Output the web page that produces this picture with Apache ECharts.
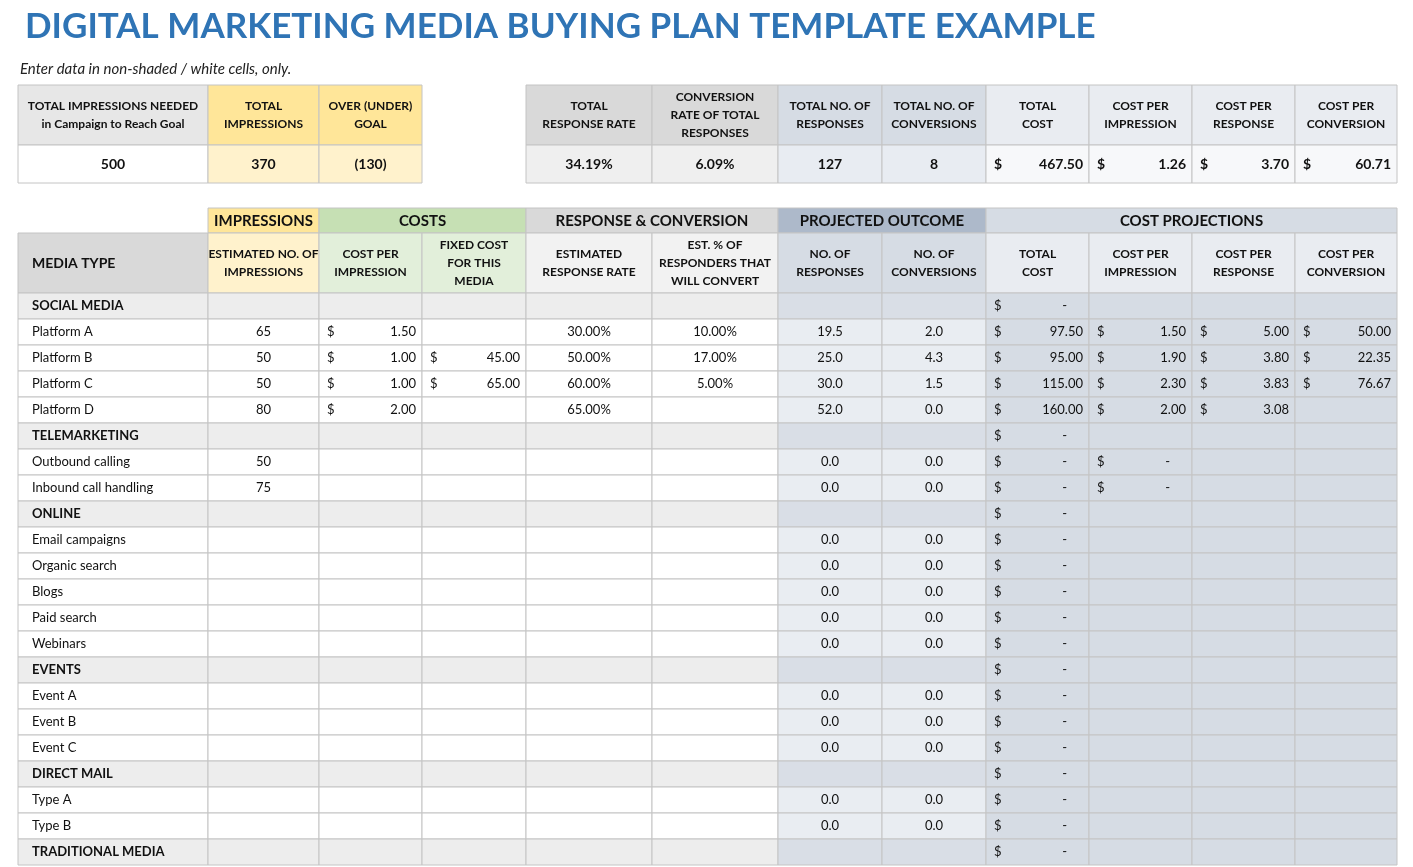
<!DOCTYPE html>
<html>
<head>
<meta charset="UTF-8">
<script src="https://cdn.jsdelivr.net/npm/echarts@6/dist/echarts.min.js"></script>
<style>html,body{margin:0;padding:0;background:#fff}#c{width:1413px;height:867px}</style>
</head>
<body>
<div id="c"></div>
<script>
// ---- data ----
var goalLabels = ['TOTAL IMPRESSIONS NEEDED\nin Campaign to Reach Goal', 'TOTAL\nIMPRESSIONS', 'OVER (UNDER)\nGOAL'];
var goalValues = ['500', '370', '(130)'];
var summaryLabels = ['TOTAL\nRESPONSE RATE', 'CONVERSION\nRATE OF TOTAL\nRESPONSES', 'TOTAL NO. OF\nRESPONSES', 'TOTAL NO. OF\nCONVERSIONS', 'TOTAL\nCOST', 'COST PER\nIMPRESSION', 'COST PER\nRESPONSE', 'COST PER\nCONVERSION'];
var summaryValues = ['34.19%', '6.09%', '127', '8', '467.50', '1.26', '3.70', '60.71'];
var groupLabels = ['IMPRESSIONS', 'COSTS', 'RESPONSE & CONVERSION', 'PROJECTED OUTCOME', 'COST PROJECTIONS'];
var columnLabels = ['MEDIA TYPE', 'ESTIMATED NO. OF\nIMPRESSIONS', 'COST PER\nIMPRESSION', 'FIXED COST\nFOR THIS\nMEDIA', 'ESTIMATED\nRESPONSE RATE', 'EST. % OF\nRESPONDERS THAT\nWILL CONVERT', 'NO. OF\nRESPONSES', 'NO. OF\nCONVERSIONS', 'TOTAL\nCOST', 'COST PER\nIMPRESSION', 'COST PER\nRESPONSE', 'COST PER\nCONVERSION'];
// section rows are marked with a leading '#'
var mediaTypes = ['#SOCIAL MEDIA', 'Platform A', 'Platform B', 'Platform C', 'Platform D', '#TELEMARKETING', 'Outbound calling', 'Inbound call handling', '#ONLINE', 'Email campaigns', 'Organic search', 'Blogs', 'Paid search', 'Webinars', '#EVENTS', 'Event A', 'Event B', 'Event C', '#DIRECT MAIL', 'Type A', 'Type B', '#TRADITIONAL MEDIA'];
var impressions = [null, '65', '50', '50', '80', null, '50', '75', null, null, null, null, null, null, null, null, null, null, null, null, null, null];
var costPerImp = [null, '1.50', '1.00', '1.00', '2.00', null, null, null, null, null, null, null, null, null, null, null, null, null, null, null, null, null];
var fixedCost = [null, null, '45.00', '65.00', null, null, null, null, null, null, null, null, null, null, null, null, null, null, null, null, null, null];
var responseRate = [null, '30.00%', '50.00%', '60.00%', '65.00%', null, null, null, null, null, null, null, null, null, null, null, null, null, null, null, null, null];
var convertPct = [null, '10.00%', '17.00%', '5.00%', null, null, null, null, null, null, null, null, null, null, null, null, null, null, null, null, null, null];
var responses = [null, '19.5', '25.0', '30.0', '52.0', null, '0.0', '0.0', null, '0.0', '0.0', '0.0', '0.0', '0.0', null, '0.0', '0.0', '0.0', null, '0.0', '0.0', null];
var conversions = [null, '2.0', '4.3', '1.5', '0.0', null, '0.0', '0.0', null, '0.0', '0.0', '0.0', '0.0', '0.0', null, '0.0', '0.0', '0.0', null, '0.0', '0.0', null];
var totalCost = ['-', '97.50', '95.00', '115.00', '160.00', '-', '-', '-', '-', '-', '-', '-', '-', '-', '-', '-', '-', '-', '-', '-', '-', '-'];
var projCpi = [null, '1.50', '1.90', '2.30', '2.00', null, '-', '-', null, null, null, null, null, null, null, null, null, null, null, null, null, null];
var projCpr = [null, '5.00', '3.80', '3.83', '3.08', null, null, null, null, null, null, null, null, null, null, null, null, null, null, null, null, null];
var projCpc = [null, '50.00', '22.35', '76.67', null, null, null, null, null, null, null, null, null, null, null, null, null, null, null, null, null, null];

// ---- layout ----
var FONT = 'Lato, "Open Sans", sans-serif';
var cols = [18, 208, 319, 422, 526, 652, 778, 882, 986, 1089, 1192, 1295, 1397];
var els = [];
function box(x1, x2, y1, y2, fill) {
  els.push({type: 'rect', shape: {x: x1, y: y1, width: x2 - x1, height: y2 - y1},
    style: {fill: fill, stroke: '#c4c4c4', lineWidth: 1}});
}
function txt(x, y, s, align, size, bold, color, lh) {
  els.push({type: 'text', x: x, y: y, style: {text: s, x: 0, y: 0, align: align, verticalAlign: 'middle',
    font: (bold ? 'bold ' : '') + size + 'px ' + FONT, fill: color || '#111', lineHeight: lh || 18}});
}
function money(x1, x2, yc, v, size, bold) {
  if (v == null) return;
  txt(x1 + 8, yc, '$', 'left', size, bold);
  txt(v === '-' ? x2 - 22 : x2 - 6, yc, v, 'right', size, bold);
}

// title
txt(25, 27, 'DIGITAL MARKETING MEDIA BUYING PLAN TEMPLATE EXAMPLE', 'left', 35, true, '#2F74B5');
els.push({type: 'text', x: 20, y: 69, style: {text: 'Enter data in non-shaded / white cells, only.', verticalAlign: 'middle',
  font: 'italic 15px ' + FONT, fill: '#222'}});

// goal box
var gFill = ['#e7e7e7', '#ffe699', '#ffe699'], gvFill = ['#ffffff', '#fff2cc', '#fff2cc'];
for (var i = 0; i < 3; i++) {
  box(cols[i], cols[i + 1], 85, 145, gFill[i]);
  txt((cols[i] + cols[i + 1]) / 2, 115, goalLabels[i], 'center', 12, true, '#111', 18);
  box(cols[i], cols[i + 1], 145, 183, gvFill[i]);
  txt((cols[i] + cols[i + 1]) / 2, 164, goalValues[i], 'center', 14, true);
}
// summary box
var sFill = ['#d9d9d9', '#d9d9d9', '#d6dce4', '#d6dce4', '#e9ecf1', '#e9ecf1', '#e9ecf1', '#e9ecf1'];
var svFill = ['#efefef', '#efefef', '#e8ecf2', '#e8ecf2', '#f7f8fa', '#f7f8fa', '#f7f8fa', '#f7f8fa'];
for (var i = 0; i < 8; i++) {
  var a = cols[i + 4], b = cols[i + 5];
  box(a, b, 85, 145, sFill[i]);
  txt((a + b) / 2, 115, summaryLabels[i], 'center', 12, true, '#111', 18);
  box(a, b, 145, 183, svFill[i]);
  if (i < 4) txt((a + b) / 2, 164, summaryValues[i], 'center', 14, true);
  else money(a, b, 164, summaryValues[i], 14, true);
}

// group header
var gSpan = [[1, 2], [2, 4], [4, 6], [6, 8], [8, 12]];
var grpFill = ['#ffe699', '#c6e0b4', '#d9d9d9', '#adb9ca', '#d6dce4'];
for (var i = 0; i < 5; i++) {
  var a = cols[gSpan[i][0]], b = cols[gSpan[i][1]];
  box(a, b, 208, 233, grpFill[i]);
  txt((a + b) / 2, 221, groupLabels[i], 'center', 15, true);
}
// column header
var hFill = ['#d9d9d9', '#fff2cc', '#e2efda', '#e2efda', '#f2f2f2', '#f2f2f2', '#d6dce4', '#d6dce4', '#e9ecf1', '#e9ecf1', '#e9ecf1', '#e9ecf1'];
for (var i = 0; i < 12; i++) {
  box(cols[i], cols[i + 1], 233, 293, hFill[i]);
  if (i === 0) txt(32, 263, columnLabels[0], 'left', 14, true);
  else txt((cols[i] + cols[i + 1]) / 2, 263, columnLabels[i], 'center', 12, true, '#111', 18);
}

// body rows
var rowH = 26, bodyTop = 293;
mediaTypes.forEach(function (m, r) {
  var y1 = bodyTop + r * rowH, y2 = y1 + rowH, yc = y1 + rowH / 2;
  var sec = m.charAt(0) === '#';
  for (var c = 0; c < 12; c++) {
    var f = c < 6 ? (sec ? '#ededed' : '#ffffff') : (c < 8 ? (sec ? '#d9dee6' : '#e9edf2') : '#d6dce4');
    box(cols[c], cols[c + 1], y1, Math.min(y2, 867), f);
  }
  txt(32, yc, sec ? m.slice(1) : m, 'left', 13, sec);
  var mid = function (c, v) { if (v != null) txt((cols[c] + cols[c + 1]) / 2, yc, v, 'center', 13, false); };
  mid(1, impressions[r]);
  money(cols[2], cols[3], yc, costPerImp[r], 13);
  money(cols[3], cols[4], yc, fixedCost[r], 13);
  mid(4, responseRate[r]);
  mid(5, convertPct[r]);
  mid(6, responses[r]);
  mid(7, conversions[r]);
  money(cols[8], cols[9], yc, totalCost[r], 13);
  money(cols[9], cols[10], yc, projCpi[r], 13);
  money(cols[10], cols[11], yc, projCpr[r], 13);
  money(cols[11], cols[12], yc, projCpc[r], 13);
});

var chart = echarts.init(document.getElementById('c'));
chart.setOption({animation: false, graphic: {elements: els}});
</script>
</body>
</html>
